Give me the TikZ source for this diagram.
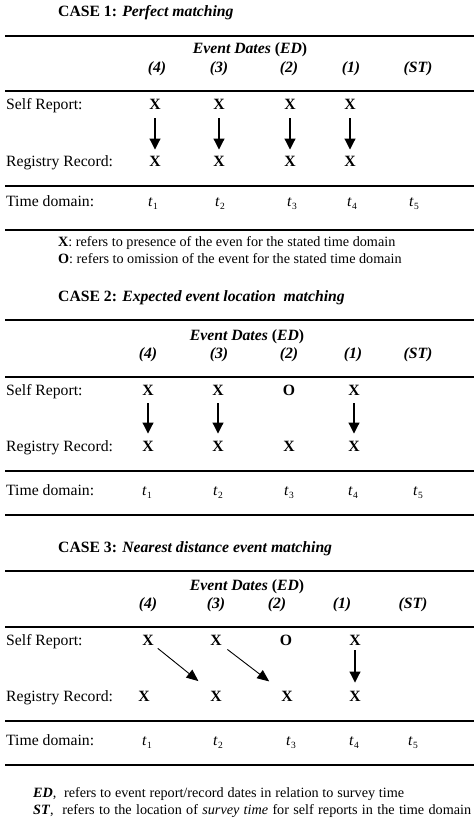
\documentclass[tikz,border=0pt]{standalone}
\usepackage{fontspec}
\setmainfont{Liberation Serif}
\usetikzlibrary{arrows.meta}
\newcommand{\tsub}[1]{\textit{t}\kern0.3pt\raisebox{-3pt}{\fontsize{9.5}{10}\selectfont #1}}
\begin{document}
\begin{tikzpicture}[x=1pt,y=-1pt,
  txt/.style={inner sep=0pt, font=\fontsize{15.7}{18}\selectfont},
  lbl/.style={txt, anchor=base west},
  ttl/.style={txt, anchor=base west},
  xmark/.style={inner sep=0pt, anchor=base, font=\fontsize{15.7}{18}\selectfont\bfseries},
  colhead/.style={inner sep=0pt, anchor=base, font=\fontsize{15.7}{18}\selectfont\bfseries\itshape},
  tlab/.style={txt, anchor=base},
  note/.style={inner sep=0pt, anchor=base west, font=\fontsize{14.2}{16}\selectfont},
  hrule/.style={line width=1.1pt},
  varrow/.style={line width=1.1pt, -{Triangle[width=11pt,length=11pt]}},
  darrow/.style={line width=0.9pt, -{Triangle[width=10pt,length=12pt]}}
]
\useasboundingbox (0,0) rectangle (474,824);

% ---------------- CASE 1 ----------------
\node[ttl] (c1t) at (58,17) {\textbf{CASE 1:} \textbf{\textit{Perfect matching}}};
\draw[hrule] (5,36) -- (474,36);
\node[colhead] (c1ed) at (250,54) {Event Dates \textup{(}ED\textup{)}};
\node[colhead] (c1h4) at (157,73) {(4)};
\node[colhead] (c1h3) at (219,73) {(3)};
\node[colhead] (c1h2) at (289,73) {(2)};
\node[colhead] (c1h1) at (351,73) {(1)};
\node[colhead] (c1hs) at (418,73) {(ST)};
\draw[hrule] (5,91) -- (474,91);
\node[lbl] (c1sr) at (6,110) {Self Report:};
\node[xmark] (c1s1) at (155,110) {X};
\node[xmark] (c1s2) at (219,110) {X};
\node[xmark] (c1s3) at (290,110) {X};
\node[xmark] (c1s4) at (350,110) {X};
\node[lbl] (c1rr) at (6,166) {Registry Record:};
\node[xmark] (c1r1) at (155,166) {X};
\node[xmark] (c1r2) at (219,166) {X};
\node[xmark] (c1r3) at (290,166) {X};
\node[xmark] (c1r4) at (350,166) {X};
\foreach \i in {1,2,3,4}
  \draw[varrow, shorten <=8pt, shorten >=6pt] (c1s\i.south) -- (c1r\i.north);
\draw[hrule] (5,186) -- (474,186);
\node[lbl] (c1td) at (6,206) {Time domain:};
\node[tlab] (c1t1) at (153,206) {\tsub{1}};
\node[tlab] (c1t2) at (220,206) {\tsub{2}};
\node[tlab] (c1t3) at (292,206) {\tsub{3}};
\node[tlab] (c1t4) at (352,206) {\tsub{4}};
\node[tlab] (c1t5) at (414,206) {\tsub{5}};
\draw[hrule] (5,230) -- (474,230);
\node[note] (n1) at (58,246) {\textbf{X}: refers to presence of the even for the stated time domain};
\node[note] (n2) at (58,263) {\textbf{O}: refers to omission of the event for the stated time domain};

% ---------------- CASE 2 ----------------
\node[ttl] (c2t) at (58,301) {\textbf{CASE 2:} \textbf{\textit{Expected event location\ \ matching}}};
\draw[hrule] (5,320) -- (474,320);
\node[colhead] (c2ed) at (247,340) {Event Dates \textup{(}ED\textup{)}};
\node[colhead] (c2h4) at (148,358) {(4)};
\node[colhead] (c2h3) at (219,358) {(3)};
\node[colhead] (c2h2) at (289,358) {(2)};
\node[colhead] (c2h1) at (353,358) {(1)};
\node[colhead] (c2hs) at (418,358) {(ST)};
\draw[hrule] (5,377) -- (474,377);
\node[lbl] (c2sr) at (6,395) {Self Report:};
\node[xmark] (c2s1) at (148,395) {X};
\node[xmark] (c2s2) at (218,395) {X};
\node[xmark] (c2s3) at (289,395) {O};
\node[xmark] (c2s4) at (354,395) {X};
\node[lbl] (c2rr) at (6,451) {Registry Record:};
\node[xmark] (c2r1) at (148,451) {X};
\node[xmark] (c2r2) at (218,451) {X};
\node[xmark] (c2r3) at (289,451) {X};
\node[xmark] (c2r4) at (354,451) {X};
\foreach \i in {1,2,4}
  \draw[varrow, shorten <=8pt, shorten >=7pt] (c2s\i.south) -- (c2r\i.north);
\draw[hrule] (5,471) -- (474,471);
\node[lbl] (c2td) at (6,495) {Time domain:};
\node[tlab] (c2t1) at (147,495) {\tsub{1}};
\node[tlab] (c2t2) at (218,495) {\tsub{2}};
\node[tlab] (c2t3) at (289,495) {\tsub{3}};
\node[tlab] (c2t4) at (353,495) {\tsub{4}};
\node[tlab] (c2t5) at (418,495) {\tsub{5}};
\draw[hrule] (5,515) -- (474,515);

% ---------------- CASE 3 ----------------
\node[ttl] (c3t) at (58,552) {\textbf{CASE 3:} \textbf{\textit{Nearest distance event matching}}};
\draw[hrule] (5,571) -- (474,571);
\node[colhead] (c3ed) at (247,590) {Event Dates \textup{(}ED\textup{)}};
\node[colhead] (c3h4) at (148,608) {(4)};
\node[colhead] (c3h3) at (216,608) {(3)};
\node[colhead] (c3h2) at (277,608) {(2)};
\node[colhead] (c3h1) at (342,608) {(1)};
\node[colhead] (c3hs) at (413,608) {(ST)};
\draw[hrule] (5,627) -- (474,627);
\node[lbl] (c3sr) at (6,645) {Self Report:};
\node[xmark] (c3s1) at (148,645) {X};
\node[xmark] (c3s2) at (216,645) {X};
\node[xmark] (c3s3) at (286,645) {O};
\node[xmark] (c3s4) at (355,645) {X};
\node[lbl] (c3rr) at (6,701) {Registry Record:};
\node[xmark] (c3r1) at (144,701) {X};
\node[xmark] (c3r2) at (216,701) {X};
\node[xmark] (c3r3) at (287,701) {X};
\node[xmark] (c3r4) at (355,701) {X};
\draw[darrow, shorten <=5pt, shorten >=15pt] (c3s1.south east) -- (c3r2.north west);
\draw[darrow, shorten <=7pt, shorten >=15pt] (c3s2.south east) -- (c3r3.north west);
\draw[varrow, shorten <=5pt, shorten >=8pt] (c3s4.south) -- (c3r4.north);
\draw[hrule] (5,721) -- (474,721);
\node[lbl] (c3td) at (6,745) {Time domain:};
\node[tlab] (c3t1) at (147,745) {\tsub{1}};
\node[tlab] (c3t2) at (218,745) {\tsub{2}};
\node[tlab] (c3t3) at (291,745) {\tsub{3}};
\node[tlab] (c3t4) at (354,745) {\tsub{4}};
\node[tlab] (c3t5) at (413,745) {\tsub{5}};
\draw[hrule] (5,765) -- (474,765);
\node[note] (n3) at (33,797) {\makebox[371pt][s]{\textbf{\textit{ED}},\ \ refers to event report/record dates in relation to survey time}};
\node[note] (n4) at (33,814) {\makebox[438pt][s]{\textbf{\textit{ST}},\ \ refers to the location of \textit{survey time} for self reports in the time domain}};
\end{tikzpicture}
\end{document}
